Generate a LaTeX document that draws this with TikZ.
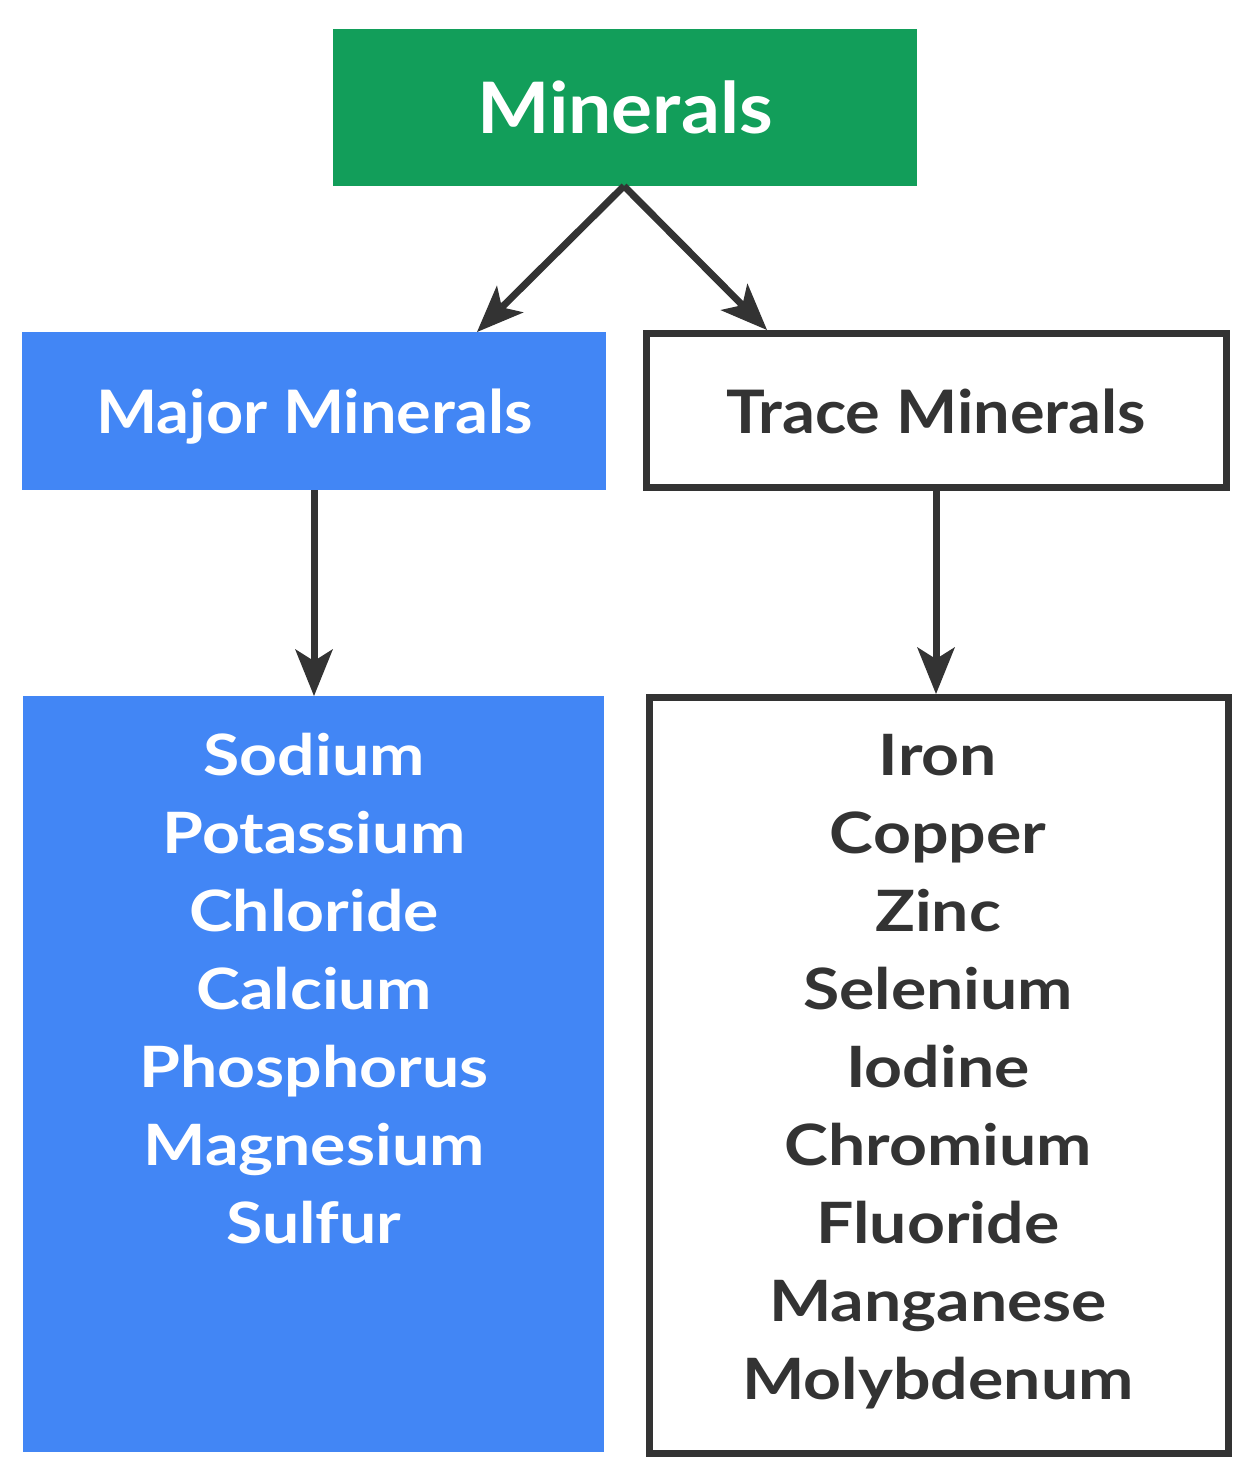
\documentclass[tikz,border=0pt]{standalone}
\usepackage{fontspec}
\setmainfont{Lato}
\newfontfamily\headfont{Lato}[FakeStretch=1.08]
\newfontfamily\itemfont{Lato}[FakeStretch=1.16]
\usetikzlibrary{arrows.meta,calc}
\definecolor{mgreen}{HTML}{129E5A}
\definecolor{mblue}{HTML}{4286F5}
\definecolor{mdark}{HTML}{333333}
\tikzset{
  framebox/.style={fill=white,draw=mdark,line width=7pt},
  titletxt/.style={anchor=base,inner sep=0pt,text=white,font=\headfont\fontsize{71}{71}\selectfont\bfseries},
  subtxt/.style={anchor=base,inner sep=0pt,font=\headfont\fontsize{60}{60}\selectfont\bfseries},
  listtxt/.style={anchor=base,inner sep=0pt,font=\itemfont\fontsize{57}{57}\selectfont\bfseries},
  arr/.style={draw=mdark,line width=7pt,-{Stealth[length=47pt,width=38pt,inset=12pt,line width=0pt]}}
}
\begin{document}
\begin{tikzpicture}[x=1pt,y=-1pt]
\useasboundingbox (0,0) rectangle (1251,1482);
% boxes
\fill[mgreen] (333,29) rectangle (917,186);
\coordinate (mins) at (624,186);
\fill[mblue] (22,332) rectangle (606,490);
\coordinate (majn) at (477,332);
\coordinate (majs) at (314,490);
\draw[framebox] (646.5,333.5) rectangle (1226.5,487.5);
\coordinate (trcn) at (767,330);
\coordinate (trcs) at (936,491);
\fill[mblue] (23,696) rectangle (604,1452);
\coordinate (lstn) at (314,696);
\draw[framebox] (649.5,697.5) rectangle (1228.5,1453.5);
\coordinate (rlsn) at (936,694);
% texts
\node[titletxt] (tmin) at (625,134) {Minerals};
\node[subtxt,text=white] (tmaj) at (314.5,433) {Major Minerals};
\node[subtxt,text=mdark] (ttrc) at (936,433) {Trace Minerals};
\foreach \t [count=\i from 0] in {Sodium,Potassium,Chloride,Calcium,Phosphorus,Magnesium,Sulfur}
  \node[listtxt,text=white] (l\i) at (314,775+78*\i) {\t};
\foreach \t [count=\i from 0] in {Iron,Copper,Zinc,Selenium,Iodine,Chromium,Fluoride,Manganese,Molybdenum}
  \node[listtxt,text=mdark] (r\i) at (938,775+78*\i) {\t};
% arrows
\draw[arr] (mins) -- (majn);
\draw[arr] (mins) -- (trcn);
\draw[arr] (majs) -- (lstn);
\draw[arr] (trcs) -- (rlsn);
\end{tikzpicture}
\end{document}
